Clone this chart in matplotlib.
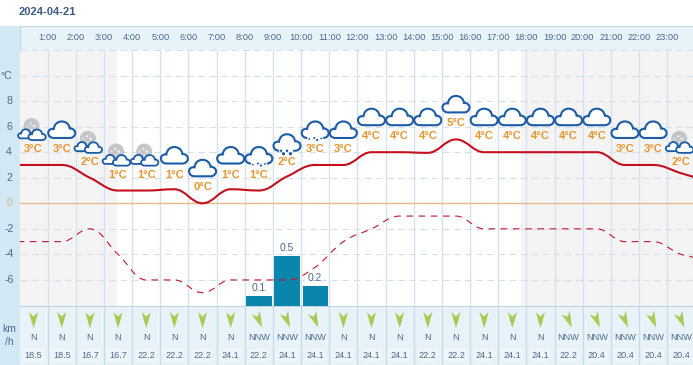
import matplotlib
matplotlib.use('Agg')
import matplotlib.pyplot as plt
from matplotlib.patches import PathPatch, Circle, Rectangle
from matplotlib.path import Path
from matplotlib.transforms import Affine2D, ScaledTranslation

plt.rcParams['font.family'] = ['Liberation Sans', 'DejaVu Sans']

date_label = '2024-04-21'
hours = [h + 0.5 for h in range(24)]
hour_labels = ['%d:00' % h for h in range(1, 24)]
temp_labels = [3, 3, 2, 1, 1, 1, 0, 1, 1, 2, 3, 3, 4, 4, 4, 5, 4, 4, 4, 4, 4, 3, 3, 2]
temp_line = [3, 3, 2, 1, 1, 1.1, 0, 1.1, 1, 2.1, 3, 3, 4, 4, 3.95, 5, 4, 4, 4, 4, 4, 3, 3, 2.35]
dew_line = [-3, -3, -2, -4, -6, -6, -7, -6, -6, -6, -5, -3, -2, -1, -1, -1, -2, -2, -2, -2, -2, -3, -3, -4]
# points just outside of the frame, the lines run on to the edges
temp_ends = [3, 1.7]
dew_ends = [-3, -4.4]
rain_hours = [8.5, 9.5, 10.5]
rain = [0.1, 0.5, 0.2]
wind_dir = ['N'] * 8 + ['NNW'] * 3 + ['N'] * 8 + ['NNW'] * 5
wind_speed = [18.5, 18.5, 16.7, 16.7, 22.2, 22.2, 22.2, 24.1, 22.2, 24.1, 24.1, 24.1,
              24.1, 24.1, 22.2, 22.2, 24.1, 24.1, 24.1, 22.2, 20.4, 20.4, 20.4, 20.4]
icons = ['night', 'cloud', 'night', 'night', 'night', 'cloud', 'cloud', 'cloud', 'light',
         'heavy', 'light', 'cloud', 'cloud', 'cloud', 'cloud', 'cloud', 'cloud', 'cloud',
         'cloud', 'cloud', 'cloud', 'cloud', 'cloud', 'night']

BLUE = '#1c5ca6'
TEXT = '#4b6a8f'
W, H = 693, 365
LEFT = 19.5
HOUR_W = 28.16
ICON_LIFT = 35


def box(x0, y0, x1, y1):
    # pixel box, y from the top of the picture
    return [x0 / W, 1 - y1 / H, (x1 - x0) / W, (y1 - y0) / H]


def spline(xs, ys):
    # smoothed curve the way Highcharts does it
    verts = [(xs[0], ys[0])]
    codes = [Path.MOVETO]
    conts = []
    for i in range(len(xs)):
        x, y = xs[i], ys[i]
        if i == 0 or i == len(xs) - 1:
            conts.append((x, y, x, y))
            continue
        lx = x + 0.4 * (xs[i - 1] - x)
        ly = y + 0.4 * (ys[i - 1] - y)
        rx = x + 0.4 * (xs[i + 1] - x)
        ry = y + 0.4 * (ys[i + 1] - y)
        corr = (ry - ly) * (rx - x) / (rx - lx) + y - ry
        ly += corr
        ry += corr
        if ly > y and ly > ys[i - 1]:
            ly = max(y, ys[i - 1])
            ry = 2 * y - ly
        elif ly < y and ly < ys[i - 1]:
            ly = min(y, ys[i - 1])
            ry = 2 * y - ly
        if ry > y and ry > ys[i + 1]:
            ry = max(y, ys[i + 1])
            ly = 2 * y - ry
        elif ry < y and ry < ys[i + 1]:
            ry = min(y, ys[i + 1])
            ly = 2 * y - ry
        conts.append((lx, ly, rx, ry))
    for i in range(1, len(xs)):
        verts += [(conts[i - 1][2], conts[i - 1][3]), (conts[i][0], conts[i][1]), (xs[i], ys[i])]
        codes += [Path.CURVE4] * 3
    return Path(verts, codes)


# icon outlines in pixels around the middle of the icon, y goes up
cloud_top = [(-8, -8), (-11.5, -8), (-13.5, -5.5), (-13.5, -3), (-13.5, 0), (-11, 1.5), (-8, 1),
             (-7.5, 5.5), (-4.5, 8.5), (0, 8.5), (4.5, 8.5), (7.5, 5.5), (8, 1.5),
             (10.5, 1.8), (13.5, 0), (13.5, -3), (13.5, -5.5), (11.5, -8), (8, -8)]
cloud_codes = [Path.MOVETO] + [Path.CURVE4] * 18
cloud_closed = Path(cloud_top + [(-8, -8)], cloud_codes + [Path.LINETO])
cloud_open = Path(cloud_top, cloud_codes)
dart = Path([(-4.5, 8), (0, 3.5), (4.5, 8), (2.2, -1), (0, -8), (-2.2, -1), (-4.5, 8)],
            [Path.MOVETO] + [Path.LINETO] * 5 + [Path.CLOSEPOLY])
light_drops = [(-6, -9, 0.9), (-1, -8, 1.0), (2, -10, 1.1), (6, -8.5, 0.9)]
heavy_drops = [(-6, -8, 1.2), (-3.5, -11, 1.6), (0, -8, 1.3), (3.5, -11, 1.6), (7, -8, 1.1)]
moon_spots = [(-1, 2.5, 1.1), (2.5, 0, 1.3), (0, -3.5, 0.8), (-4.5, 0, 0.8)]


def place(ax, x, y, dx, dy, scale=1.0, rot=0):
    return (Affine2D().scale(scale).rotate_deg(rot).translate(dx, dy)
            + ScaledTranslation(x, y, ax.transData))


def draw_cloud(ax, x, y, dx=0, dy=0, scale=1.0, path=cloud_closed, lw=1.5, z=6):
    ax.add_patch(PathPatch(path, fc='white', ec=BLUE, lw=lw, zorder=z, clip_on=False,
                           transform=place(ax, x, y, dx, dy + ICON_LIFT, scale)))


def draw_dots(ax, x, y, drops):
    for dx, dy, r in drops:
        ax.add_patch(Circle((dx, dy), r, fc=BLUE, ec='none', zorder=6, clip_on=False,
                            transform=place(ax, x, y, 0, ICON_LIFT)))


def draw_icon(ax, kind, x, y):
    if kind == 'cloud':
        draw_cloud(ax, x, y)
    elif kind == 'night':
        moon = place(ax, x, y, -2, 4 + ICON_LIFT)
        ax.add_patch(Circle((0, 0), 8, fc='#c4c6c9', ec='none', zorder=5, clip_on=False,
                            transform=moon))
        for dx, dy, r in moon_spots:
            ax.add_patch(Circle((dx, dy), r, fc='#f0f0f0', ec='none', zorder=5, clip_on=False,
                                transform=moon))
        draw_cloud(ax, x, y, -8, -4, 0.55, lw=1.3, z=6)
        draw_cloud(ax, x, y, 3.5, -5, 0.64, lw=1.3, z=7)
    else:
        draw_cloud(ax, x, y, path=cloud_open)
        draw_dots(ax, x, y, light_drops if kind == 'light' else heavy_drops)


fig = plt.figure(figsize=(6.93, 3.65), dpi=100)

# page furniture around the plot
fig.patches.append(Rectangle((0, 0), 19.5 / W, 1 - 25.5 / H, transform=fig.transFigure,
                             fc='#d2e8f4', ec='none', zorder=-1))
fig.text(19 / W, 1 - 12 / H, date_label, fontsize=8, fontweight='bold', color='#3c5c88',
         va='center', ha='left')

ax_head = fig.add_axes(box(LEFT, 25.5, W, 50))
ax_head.set_facecolor('#e8f3f9')
ax_wind = fig.add_axes(box(LEFT, 305.5, W, H))
ax_wind.set_facecolor('#e8f3f9')
ax = fig.add_axes(box(LEFT, 50, W, 305.5))
ax_rain = fig.add_axes(box(LEFT, 50, W, 305.5))
ax_rain.patch.set_visible(False)
ax_over = fig.add_axes(box(LEFT, 50, W, 305.5))
ax_over.patch.set_visible(False)

xmax = (W - LEFT) / HOUR_W
for a in (ax_head, ax, ax_wind, ax_rain, ax_over):
    a.set_xlim(0, xmax)
    a.set_xticks([])
    a.set_yticks([])
    for s in a.spines.values():
        s.set_visible(False)
ax_head.set_ylim(0, 1)
ax_wind.set_ylim(0, 1)
ax.set_ylim(-8, 12)
ax_over.set_ylim(-8, 12)
ax_rain.set_ylim(0, 2.555)

ax_head.axhline(1, color='#c3d6e6', lw=1.4)
ax_head.axvline(0, color='#c3d6e6', lw=1)
ax_wind.axhline(1, color='#bed2e2', lw=1.4, zorder=3)

for i, lab in enumerate(hour_labels):
    ax_head.text(i + 1, 0.5, lab, fontsize=6.7, color=TEXT, ha='center', va='center')

# night shading and grid
ax.axvspan(0, 3.47, fc='#f4f4f4', ec='none', zorder=0)
ax.axvspan(17.8, xmax, fc='#f4f4f4', ec='none', zorder=0)
for h in range(1, 24):
    ax.axvline(h, color='#d6e2ef', lw=1, zorder=1)
    ax_wind.axvline(h, color='#c9dcea', lw=1, zorder=1)
for v in range(-6, 13, 2):
    if v != 0:
        ax.axhline(v, color='#d8dfe7', lw=0.8, ls=(0, (6, 4)), zorder=1, clip_on=False)
ax.axhline(0, color='#e9b98c', lw=1, zorder=2)

# y labels in the left strip
for v in range(-6, 9, 2):
    ax.annotate(str(v), (0, v), xycoords=('axes fraction', 'data'), xytext=(-10.5 * 0.72, 0),
                textcoords='offset points', ha='center', va='center', fontsize=7.6,
                color='#d0b48a' if v == 0 else TEXT, annotation_clip=False)
ax.annotate('°C', (0, 10), xycoords=('axes fraction', 'data'), xytext=(-13 * 0.72, 0),
            textcoords='offset points', ha='center', va='center', fontsize=7.6, color=TEXT,
            annotation_clip=False)

# rain bars on their own scale
ax_rain.bar(rain_hours, rain, width=0.9, color='#0a85ab', zorder=2)
for x, r in zip(rain_hours, rain):
    ax_rain.annotate(str(r), (x, r), xytext=(0, 1.5), textcoords='offset points', ha='center',
                     va='bottom', fontsize=7.4, color=TEXT)

xs = [-0.5] + hours + [24.5]
ax_over.add_patch(PathPatch(spline(xs, [temp_ends[0]] + temp_line + [temp_ends[1]]), fc='none',
                            ec='#c40f1e', lw=1.5, zorder=4))
ax_over.add_patch(PathPatch(spline(xs, [dew_ends[0]] + dew_line + [dew_ends[1]]), fc='none',
                            ec='#c2142e', lw=0.8, ls=(0, (6, 5)), zorder=3))

# icons and temperature labels sit above the point of that hour
for x, t, kind in zip(hours, temp_labels, icons):
    ax_over.annotate('%d°C' % t, (x, t), xytext=(0, 16 * 0.72), textcoords='offset points',
                     ha='center', va='center', fontsize=8, fontweight='bold', color='#e8942c',
                     zorder=8)
    draw_icon(ax_over, kind, x, t)

# wind row
for x, d, sp in zip(hours, wind_dir, wind_speed):
    rot = 22.5 if d == 'NNW' else 0
    ax_wind.add_patch(PathPatch(dart, fc='#a6cc55', ec='none', zorder=4,
                                transform=place(ax_wind, x, 0.756, 0, 0, 1.0, rot)))
    ax_wind.text(x, 0.47, d, fontsize=6.6, color=TEXT, ha='center', va='center', zorder=5)
    ax_wind.text(x, 0.165, '%.1f' % sp, fontsize=6.6, color=TEXT, ha='center', va='center', zorder=5,
                 bbox=dict(boxstyle='round,pad=0.2', fc='#eef6fb', ec='none'))
fig.text(9.5 / W, 1 - 329 / H, 'km', fontsize=7.4, color=TEXT, ha='center', va='center')
fig.text(9.5 / W, 1 - 342 / H, '/h', fontsize=7.4, color=TEXT, ha='center', va='center')

fig.savefig('out.png', dpi=100)
